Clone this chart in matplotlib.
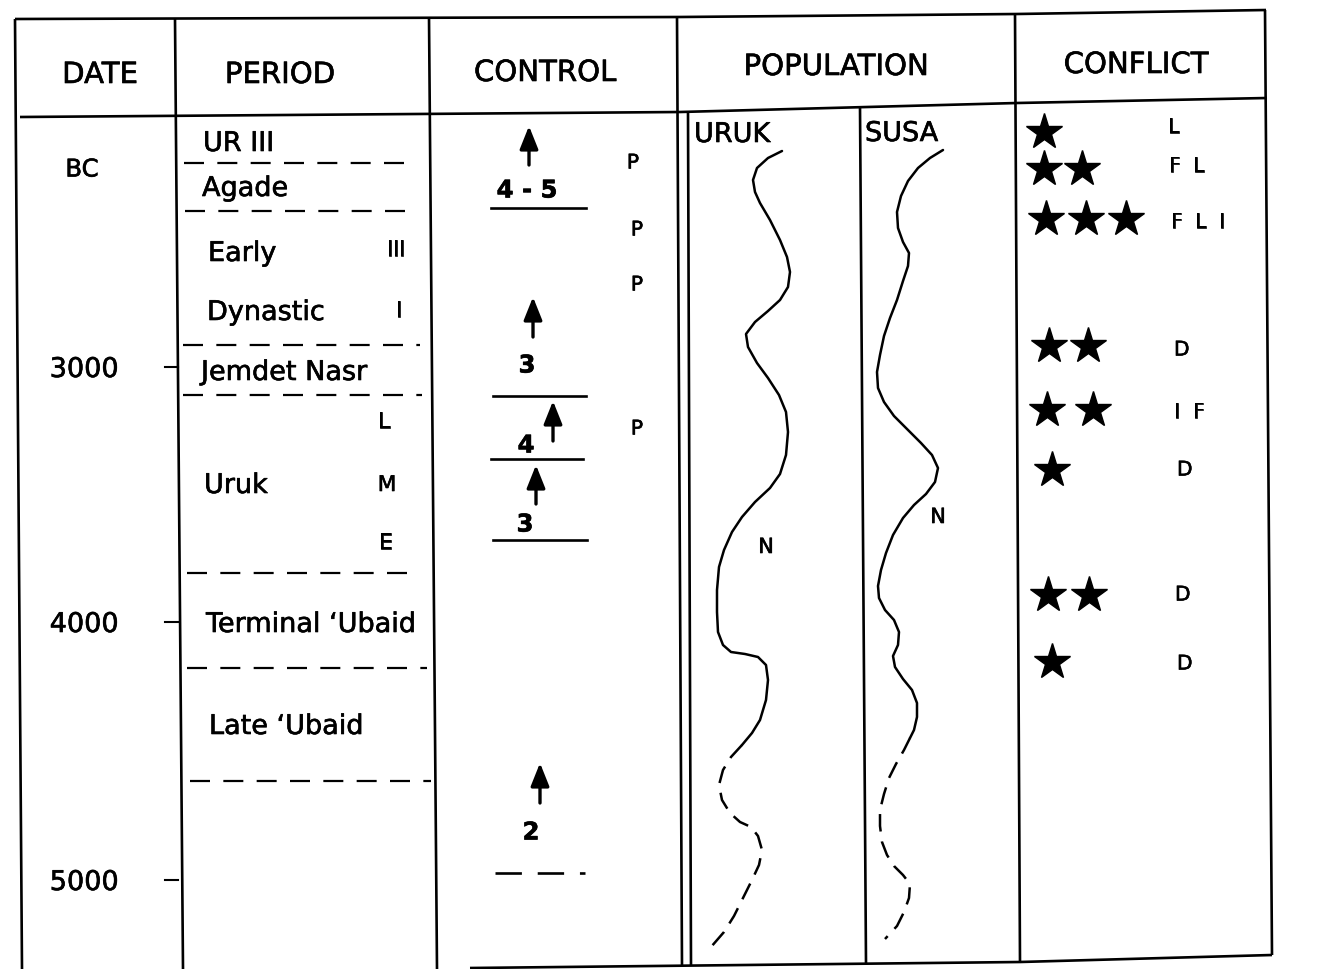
import matplotlib
matplotlib.use("Agg")
import matplotlib.pyplot as plt
import matplotlib.patheffects as pe
import numpy as np

plt.rcParams['font.family'] = ['DejaVu Sans']

# ---------------- data ----------------
HEADERS = ["DATE", "PERIOD", "CONTROL", "POPULATION", "CONFLICT"]
HEADER_X = [100, 280, 545, 836, 1136]
HEADER_Y = [72, 72, 70, 64, 62]

DATE_LABELS = ["BC", "3000", "4000", "5000"]
DATE_Y = [167, 367, 622, 880]
DATE_TICK_Y = [367, 622, 880]

PERIOD_NAMES = ["UR III", "Agade", "Early", "Dynastic", "Jemdet Nasr", "Uruk",
                "Terminal \u2018Ubaid", "Late \u2018Ubaid"]
PERIOD_X = [203, 202, 208, 207, 201, 204, 206, 209]
PERIOD_Y = [141, 186, 251, 310, 370, 483, 622, 724]
SUBPHASE = ["III", "I", "L", "M", "E"]
SUBPHASE_X = [396, 399, 384, 387, 386]
SUBPHASE_Y = [248, 309, 420, 483, 541]
PERIOD_BOUNDS_Y = [163, 211, 345, 395, 573, 668, 781]
PERIOD_BOUNDS_X0 = [184, 185, 183, 183, 187, 187, 190]
PERIOD_BOUNDS_X1 = [415, 418, 420, 422, 420, 427, 431]

CONTROL_LEVELS = ["4 - 5", "3", "4", "3", "2"]
CONTROL_X = [527, 527, 526, 525, 531]
CONTROL_Y = [188, 363, 443, 522, 830]
ARROW_X = [529, 533, 553, 536, 540]
ARROW_TIP_Y = [126, 297, 401, 465, 763]
ARROW_BASE_Y = [165, 337, 441, 504, 803]
CONTROL_RULE_Y = [208, 396, 459, 540, 873]
CONTROL_RULE_X0 = [491, 493, 491, 493, 495]
CONTROL_RULE_X1 = [586, 586, 583, 587, 585]
CONTROL_RULE_DASHED = [False, False, False, False, True]
P_MARK_X = [633, 637, 637, 637]
P_MARK_Y = [161, 228, 283, 427]

URUK_SOLID = [(782, 151), (768, 158), (757, 168), (753, 180), (755, 192), (760, 203),
              (770, 220), (780, 240), (787, 257), (790, 272), (788, 287), (780, 300),
              (768, 311), (755, 322), (746, 334), (748, 347), (757, 363), (768, 378),
              (779, 395), (786, 412), (788, 432), (786, 455), (780, 474), (770, 488),
              (755, 502), (742, 517), (732, 532), (724, 550), (719, 567), (717, 590),
              (717, 612), (718, 632), (723, 645), (731, 652), (745, 654), (758, 657),
              (766, 665), (768, 680), (766, 700), (760, 720), (752, 733), (742, 745)]
URUK_DASHED = [(742, 745), (731, 757), (723, 770), (719, 785), (722, 800), (730, 813),
               (740, 822), (751, 827), (758, 836), (762, 850), (759, 865), (752, 880),
               (743, 898), (734, 916), (724, 932), (711, 947)]
SUSA_SOLID = [(943, 150), (930, 158), (918, 168), (908, 181), (901, 196), (897, 212),
              (898, 228), (903, 242), (909, 253), (908, 266), (903, 281), (897, 300),
              (890, 318), (884, 336), (880, 355), (877, 372), (878, 388), (884, 402),
              (894, 416), (908, 430), (921, 443), (932, 455), (938, 468), (935, 482),
              (926, 494), (914, 505), (903, 518), (893, 535), (886, 553), (881, 570),
              (878, 586), (879, 598), (885, 610), (894, 620), (899, 632), (898, 645),
              (893, 656), (895, 667), (903, 679), (912, 690), (917, 703), (917, 717),
              (914, 730), (910, 738)]
SUSA_DASHED = [(910, 738), (904, 750), (896, 764), (889, 778), (884, 794), (880, 810),
               (880, 826), (882, 842), (887, 855), (894, 866), (903, 875), (910, 884),
               (909, 898), (904, 912), (897, 926), (885, 939)]
POP_LABELS = ["URUK", "SUSA"]
POP_LABEL_X = [694, 865]
POP_LABEL_Y = [132, 131]
N_MARK_X = [766, 938]
N_MARK_Y = [545, 515]

CONFLICT_ROWS_Y = [132, 169, 219, 346, 410, 470, 595, 662]
CONFLICT_STARS_X = [[1044], [1044, 1082], [1046, 1086, 1126], [1049, 1088],
                    [1047, 1093], [1052], [1048, 1089], [1052]]
CONFLICT_CODES = ["L", "F L", "F L I", "D", "I F", "D", "D", "D"]
CONFLICT_CODE_X = [1168, 1169, 1171, 1174, 1174, 1177, 1175, 1177]
CONFLICT_CODE_Y = [125, 164, 220, 348, 410, 468, 593, 662]

# table rules as polylines (x list, y list)
RULES = [
    ([15, 680, 1017, 1266], [19, 17, 14, 10]),          # top border
    ([20, 680, 1017, 1267], [117, 112, 103, 98]),        # header bottom
    ([470, 1020, 1272], [968, 962, 955]),                # bottom border
    ([15, 22], [19, 969]),                                # left border
    ([175, 183], [19, 969]),                              # date | period
    ([429, 437], [17, 969]),                              # period | control
    ([677, 682], [16, 966]),                              # control | population
    ([688, 691], [112, 966]),                             # inner population line
    ([860, 866], [107, 963]),                             # uruk | susa
    ([1015, 1020], [14, 962]),                            # population | conflict
    ([1265, 1272], [10, 955]),                            # right border
]

# ---------------- drawing ----------------
fig = plt.figure(figsize=(13.22, 9.69), dpi=100)
ax = fig.add_axes([0, 0, 1, 1])
ax.set_xlim(0, 1322)
ax.set_ylim(969, 0)
ax.axis('off')

K = 'black'
HEAVY = [pe.withStroke(linewidth=0.45, foreground=K)]


def label(x, y, s, size, ha='left', weight='normal'):
    ax.text(x, y, s, fontsize=size, ha=ha, va='center_baseline', color=K,
            fontweight=weight, path_effects=HEAVY)


for xs, ys in RULES:
    ax.plot(xs, ys, color=K, lw=1.9, solid_capstyle='butt')

for t, x, y in zip(HEADERS, HEADER_X, HEADER_Y):
    label(x, y, t, 21, ha='center')

for t, y in zip(DATE_LABELS, DATE_Y):
    label(84 if t != "BC" else 82, y, t, 19.5 if t != "BC" else 17.5, ha='center')
for y in DATE_TICK_Y:
    ax.plot([165, 178], [y, y], color=K, lw=1.5)

for t, x, y in zip(PERIOD_NAMES, PERIOD_X, PERIOD_Y):
    label(x, y, t, 19.5)
for t, x, y in zip(SUBPHASE, SUBPHASE_X, SUBPHASE_Y):
    label(x, y, t, 15.5, ha='center')
for y, x0, x1 in zip(PERIOD_BOUNDS_Y, PERIOD_BOUNDS_X0, PERIOD_BOUNDS_X1):
    ax.plot([x0, x1], [y, y], color=K, lw=1.6, dashes=(9, 6))

for t, x, y in zip(CONTROL_LEVELS, CONTROL_X, CONTROL_Y):
    label(x, y, t, 17.5, ha='center', weight='bold')
for x, yt, yb in zip(ARROW_X, ARROW_TIP_Y, ARROW_BASE_Y):
    ax.annotate('', xy=(x, yt), xytext=(x, yb),
                arrowprops=dict(arrowstyle='-|>,head_length=1.0,head_width=0.4',
                                lw=2.4, color=K, shrinkA=0, shrinkB=0, mutation_scale=14))
for y, x0, x1, d in zip(CONTROL_RULE_Y, CONTROL_RULE_X0, CONTROL_RULE_X1, CONTROL_RULE_DASHED):
    if d:
        ax.plot([x0, x1], [y, y], color=K, lw=1.9, dashes=(10, 6))
    else:
        ax.plot([x0, x1], [y, y], color=K, lw=1.9)
for x, y in zip(P_MARK_X, P_MARK_Y):
    label(x, y, "P", 14.5, ha='center')

for pts, dashed in [(URUK_SOLID, False), (URUK_DASHED, True), (SUSA_SOLID, False), (SUSA_DASHED, True)]:
    xs = [p[0] for p in pts]
    ys = [p[1] for p in pts]
    if dashed:
        ax.plot(xs, ys, color=K, lw=1.8, dashes=(7, 4), solid_joinstyle='round')
    else:
        ax.plot(xs, ys, color=K, lw=1.8, solid_joinstyle='round', solid_capstyle='round')
for t, x, y in zip(POP_LABELS, POP_LABEL_X, POP_LABEL_Y):
    label(x, y, t, 19.5)
for x, y in zip(N_MARK_X, N_MARK_Y):
    label(x, y, "N", 15, ha='center')

for y, xs in zip(CONFLICT_ROWS_Y, CONFLICT_STARS_X):
    ax.plot(xs, [y] * len(xs), linestyle='none', marker='*', markersize=27, color=K)
for t, x, y in zip(CONFLICT_CODES, CONFLICT_CODE_X, CONFLICT_CODE_Y):
    label(x, y, t.replace(" ", "  "), 14.5)

fig.savefig("out.png", dpi=100, facecolor='white')
